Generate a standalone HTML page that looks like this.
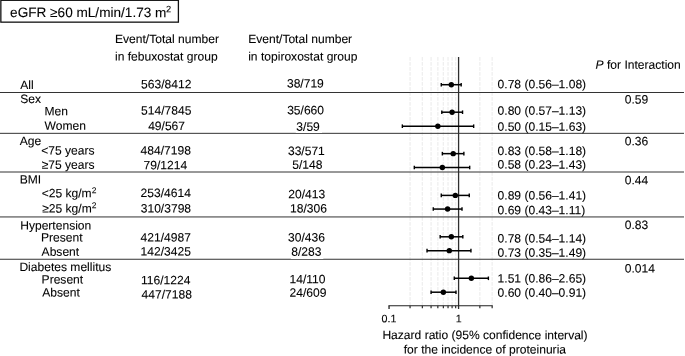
<!DOCTYPE html>
<html><head><meta charset="utf-8"><title>Forest plot</title>
<style>
html,body{margin:0;padding:0;background:#fff;}
svg{display:block;}
text{font-family:"Liberation Sans",Arial,Helvetica,sans-serif;font-size:12.07px;fill:#000;stroke:#000;stroke-width:0.09px;text-rendering:geometricPrecision;}
</style></head><body>
<svg width="685" height="356" viewBox="0 0 685 356">
<rect x="0" y="0" width="685" height="356" fill="#fff"/>
<line x1="410.06" y1="57" x2="410.06" y2="305" stroke="#efefef" stroke-width="1.3" stroke-dasharray="3.7 1.3"/>
<line x1="422.35" y1="57" x2="422.35" y2="305" stroke="#efefef" stroke-width="1.3" stroke-dasharray="3.7 1.3"/>
<line x1="431.07" y1="57" x2="431.07" y2="305" stroke="#efefef" stroke-width="1.3" stroke-dasharray="3.7 1.3"/>
<line x1="437.84" y1="57" x2="437.84" y2="305" stroke="#efefef" stroke-width="1.3" stroke-dasharray="3.7 1.3"/>
<line x1="443.36" y1="57" x2="443.36" y2="305" stroke="#efefef" stroke-width="1.3" stroke-dasharray="3.7 1.3"/>
<line x1="448.04" y1="57" x2="448.04" y2="305" stroke="#efefef" stroke-width="1.3" stroke-dasharray="3.7 1.3"/>
<line x1="452.09" y1="57" x2="452.09" y2="305" stroke="#efefef" stroke-width="1.3" stroke-dasharray="3.7 1.3"/>
<line x1="455.66" y1="57" x2="455.66" y2="305" stroke="#efefef" stroke-width="1.3" stroke-dasharray="3.7 1.3"/>
<line x1="479.86" y1="57" x2="479.86" y2="305" stroke="#efefef" stroke-width="1.3" stroke-dasharray="3.7 1.3"/>
<line x1="492.15" y1="57" x2="492.15" y2="305" stroke="#efefef" stroke-width="1.3" stroke-dasharray="3.7 1.3"/>
<line x1="0" y1="92.5" x2="684" y2="92.5" stroke="#333" stroke-width="1"/>
<line x1="0" y1="133.33" x2="684" y2="133.33" stroke="#333" stroke-width="1"/>
<line x1="0" y1="172.0" x2="684" y2="172.0" stroke="#333" stroke-width="1"/>
<line x1="0" y1="216.95" x2="684" y2="216.95" stroke="#333" stroke-width="1"/>
<line x1="0" y1="259.25" x2="684" y2="259.25" stroke="#333" stroke-width="1"/>
<rect x="295.8" y="120" width="26.2" height="13.0" fill="#fff"/>
<rect x="290.9" y="246" width="32.4" height="13.0" fill="#fff"/>
<line x1="458.58" y1="57" x2="458.58" y2="309.0" stroke="#2d2d2d" stroke-width="1.3"/>
<line x1="389.05" y1="305.75" x2="492.15" y2="305.75" stroke="#222" stroke-width="1.2" stroke-linecap="square"/>
<line x1="389.05" y1="305.75" x2="389.05" y2="309.0" stroke="#222" stroke-width="1.3"/>
<line x1="410.06" y1="305.75" x2="410.06" y2="308.3" stroke="#2a2a2a" stroke-width="1.2"/>
<line x1="422.35" y1="305.75" x2="422.35" y2="308.3" stroke="#2a2a2a" stroke-width="1.2"/>
<line x1="431.07" y1="305.75" x2="431.07" y2="308.3" stroke="#2a2a2a" stroke-width="1.2"/>
<line x1="437.84" y1="305.75" x2="437.84" y2="308.3" stroke="#2a2a2a" stroke-width="1.2"/>
<line x1="443.36" y1="305.75" x2="443.36" y2="308.3" stroke="#2a2a2a" stroke-width="1.2"/>
<line x1="448.04" y1="305.75" x2="448.04" y2="308.3" stroke="#2a2a2a" stroke-width="1.2"/>
<line x1="452.09" y1="305.75" x2="452.09" y2="308.3" stroke="#2a2a2a" stroke-width="1.2"/>
<line x1="455.66" y1="305.75" x2="455.66" y2="308.3" stroke="#2a2a2a" stroke-width="1.2"/>
<line x1="479.86" y1="305.75" x2="479.86" y2="308.3" stroke="#2a2a2a" stroke-width="1.2"/>
<line x1="492.15" y1="305.75" x2="492.15" y2="308.3" stroke="#2a2a2a" stroke-width="1.2"/>
<text x="389.05" y="322.2" transform="rotate(0.05 389.05 322.2)" text-anchor="middle" style="font-size:10.7px">0.1</text>
<text x="458.85" y="322.2" transform="rotate(0.05 458.85 322.2)" text-anchor="middle" style="font-size:10.7px">1</text>
<text x="485.0" y="339.1" transform="rotate(0.05 485.0 339.1)" text-anchor="middle">Hazard ratio (95% confidence interval)</text>
<text x="484.9" y="353.5" transform="rotate(0.05 484.9 353.5)" text-anchor="middle">for the incidence of proteinuria</text>
<rect x="0.85" y="0.3" width="177.55" height="21.85" fill="#fff" stroke="#111" stroke-width="1.3"/>
<text x="10.1" y="17.0" transform="rotate(0.05 10.1 17.0)" style="font-size:13.6px">eGFR ≥60 mL/min/1.73 m<tspan dy="-4.9" dx="-0.4" style="font-size:9.3px">2</tspan></text>
<text x="115" y="43" transform="rotate(0.05 115 43)">Event/Total number</text>
<text x="115" y="60.5" transform="rotate(0.05 115 60.5)">in febuxostat group</text>
<text x="248.2" y="43" transform="rotate(0.05 248.2 43)">Event/Total number</text>
<text x="248.2" y="60.5" transform="rotate(0.05 248.2 60.5)">in topiroxostat group</text>
<text x="595.6" y="68.8" transform="rotate(0.05 595.6 68.8)"><tspan font-style="italic">P</tspan> for Interaction</text>
<text x="20.2" y="103.0" transform="rotate(0.05 20.2 103.0)">Sex</text>
<text x="624.8" y="103.4" transform="rotate(0.05 624.8 103.4)">0.59</text>
<text x="19.7" y="144.9" transform="rotate(0.05 19.7 144.9)">Age</text>
<text x="624.8" y="145.2" transform="rotate(0.05 624.8 145.2)">0.36</text>
<text x="19.7" y="183.5" transform="rotate(0.05 19.7 183.5)">BMI</text>
<text x="624.8" y="184.3" transform="rotate(0.05 624.8 184.3)">0.44</text>
<text x="20.2" y="229.4" transform="rotate(0.05 20.2 229.4)">Hypertension</text>
<text x="624.8" y="228.9" transform="rotate(0.05 624.8 228.9)">0.83</text>
<text x="19.4" y="270.9" transform="rotate(0.05 19.4 270.9)">Diabetes mellitus</text>
<text x="624.8" y="272.5" transform="rotate(0.05 624.8 272.5)">0.014</text>
<text x="20.2" y="89.1" transform="rotate(0.05 20.2 89.1)">All</text>
<text x="166.2" y="88.3" transform="rotate(0.05 166.2 88.3)" text-anchor="middle">563/8412</text>
<text x="305.4" y="87.6" transform="rotate(0.05 305.4 87.6)" text-anchor="middle">38/719</text>
<text x="497.6" y="88.3" transform="rotate(0.05 497.6 88.3)">0.78 (0.56–1.08)</text>
<line x1="441.27" y1="84.7" x2="461.18" y2="84.7" stroke="#000" stroke-width="1.5"/>
<line x1="441.27" y1="82.9" x2="441.27" y2="86.5" stroke="#000" stroke-width="1.4"/>
<line x1="461.18" y1="82.9" x2="461.18" y2="86.5" stroke="#000" stroke-width="1.4"/>
<circle cx="451.32" cy="84.7" r="2.7" fill="#000"/>
<text x="44.5" y="115.2" transform="rotate(0.05 44.5 115.2)">Men</text>
<text x="166.2" y="114.6" transform="rotate(0.05 166.2 114.6)" text-anchor="middle">514/7845</text>
<text x="305.6" y="114.2" transform="rotate(0.05 305.6 114.2)" text-anchor="middle">35/660</text>
<text x="497.6" y="114.8" transform="rotate(0.05 497.6 114.8)">0.80 (0.57–1.13)</text>
<line x1="441.81" y1="112.2" x2="462.55" y2="112.2" stroke="#000" stroke-width="1.5"/>
<line x1="441.81" y1="110.4" x2="441.81" y2="114.0" stroke="#000" stroke-width="1.4"/>
<line x1="462.55" y1="110.4" x2="462.55" y2="114.0" stroke="#000" stroke-width="1.4"/>
<circle cx="452.09" cy="112.2" r="2.7" fill="#000"/>
<text x="44.5" y="129.8" transform="rotate(0.05 44.5 129.8)">Women</text>
<text x="166.6" y="130.1" transform="rotate(0.05 166.6 130.1)" text-anchor="middle">49/567</text>
<text x="308.1" y="130.8" transform="rotate(0.05 308.1 130.8)" text-anchor="middle">3/59</text>
<text x="497.6" y="130.7" transform="rotate(0.05 497.6 130.7)">0.50 (0.15–1.63)</text>
<line x1="402.34" y1="126.2" x2="473.66" y2="126.2" stroke="#000" stroke-width="1.5"/>
<line x1="402.34" y1="124.4" x2="402.34" y2="128.0" stroke="#000" stroke-width="1.4"/>
<line x1="473.66" y1="124.4" x2="473.66" y2="128.0" stroke="#000" stroke-width="1.4"/>
<circle cx="437.84" cy="126.2" r="2.7" fill="#000"/>
<text x="41.2" y="154.4" transform="rotate(0.05 41.2 154.4)">&lt;75 years</text>
<text x="165.7" y="154.6" transform="rotate(0.05 165.7 154.6)" text-anchor="middle">484/7198</text>
<text x="306.4" y="155.0" transform="rotate(0.05 306.4 155.0)" text-anchor="middle">33/571</text>
<text x="497.6" y="155.0" transform="rotate(0.05 497.6 155.0)">0.83 (0.58–1.18)</text>
<line x1="442.34" y1="153.65" x2="463.87" y2="153.65" stroke="#000" stroke-width="1.5"/>
<line x1="442.34" y1="151.85" x2="442.34" y2="155.45000000000002" stroke="#000" stroke-width="1.4"/>
<line x1="463.87" y1="151.85" x2="463.87" y2="155.45000000000002" stroke="#000" stroke-width="1.4"/>
<circle cx="453.20" cy="153.65" r="2.7" fill="#000"/>
<text x="41.7" y="168.8" transform="rotate(0.05 41.7 168.8)">≥75 years</text>
<text x="165.4" y="169.2" transform="rotate(0.05 165.4 169.2)" text-anchor="middle">79/1214</text>
<text x="307.3" y="168.8" transform="rotate(0.05 307.3 168.8)" text-anchor="middle">5/148</text>
<text x="497.6" y="168.6" transform="rotate(0.05 497.6 168.6)">0.58 (0.23–1.43)</text>
<line x1="414.30" y1="167.5" x2="469.69" y2="167.5" stroke="#000" stroke-width="1.5"/>
<line x1="414.30" y1="165.7" x2="414.30" y2="169.3" stroke="#000" stroke-width="1.4"/>
<line x1="469.69" y1="165.7" x2="469.69" y2="169.3" stroke="#000" stroke-width="1.4"/>
<circle cx="442.34" cy="167.5" r="2.7" fill="#000"/>
<text x="41.7" y="197.3" transform="rotate(0.05 41.7 197.3)">&lt;25 kg/m<tspan dy='-4.2' font-size='8.5'>2</tspan></text>
<text x="165.7" y="197.0" transform="rotate(0.05 165.7 197.0)" text-anchor="middle">253/4614</text>
<text x="306.7" y="198.2" transform="rotate(0.05 306.7 198.2)" text-anchor="middle">20/413</text>
<text x="497.6" y="199.5" transform="rotate(0.05 497.6 199.5)">0.89 (0.56–1.41)</text>
<line x1="441.27" y1="195.4" x2="469.27" y2="195.4" stroke="#000" stroke-width="1.5"/>
<line x1="441.27" y1="193.6" x2="441.27" y2="197.20000000000002" stroke="#000" stroke-width="1.4"/>
<line x1="469.27" y1="193.6" x2="469.27" y2="197.20000000000002" stroke="#000" stroke-width="1.4"/>
<circle cx="455.32" cy="195.4" r="2.7" fill="#000"/>
<text x="42.2" y="212.5" transform="rotate(0.05 42.2 212.5)">≥25 kg/m<tspan dy='-4.2' font-size='8.5'>2</tspan></text>
<text x="165.9" y="212.5" transform="rotate(0.05 165.9 212.5)" text-anchor="middle">310/3798</text>
<text x="308.5" y="212.6" transform="rotate(0.05 308.5 212.6)" text-anchor="middle">18/306</text>
<text x="497.6" y="214.3" transform="rotate(0.05 497.6 214.3)">0.69 (0.43–1.11)</text>
<line x1="433.27" y1="209.07" x2="462.01" y2="209.07" stroke="#000" stroke-width="1.5"/>
<line x1="433.27" y1="207.26999999999998" x2="433.27" y2="210.87" stroke="#000" stroke-width="1.4"/>
<line x1="462.01" y1="207.26999999999998" x2="462.01" y2="210.87" stroke="#000" stroke-width="1.4"/>
<circle cx="447.60" cy="209.07" r="2.7" fill="#000"/>
<text x="41.0" y="241.5" transform="rotate(0.05 41.0 241.5)">Present</text>
<text x="165.7" y="241.6" transform="rotate(0.05 165.7 241.6)" text-anchor="middle">421/4987</text>
<text x="306.5" y="241.6" transform="rotate(0.05 306.5 241.6)" text-anchor="middle">30/436</text>
<text x="497.6" y="242.5" transform="rotate(0.05 497.6 242.5)">0.78 (0.54–1.14)</text>
<line x1="440.17" y1="236.8" x2="462.82" y2="236.8" stroke="#000" stroke-width="1.5"/>
<line x1="440.17" y1="235.0" x2="440.17" y2="238.60000000000002" stroke="#000" stroke-width="1.4"/>
<line x1="462.82" y1="235.0" x2="462.82" y2="238.60000000000002" stroke="#000" stroke-width="1.4"/>
<circle cx="451.32" cy="236.8" r="2.7" fill="#000"/>
<text x="41.6" y="255.8" transform="rotate(0.05 41.6 255.8)">Absent</text>
<text x="165.7" y="255.6" transform="rotate(0.05 165.7 255.6)" text-anchor="middle">142/3425</text>
<text x="306.4" y="255.7" transform="rotate(0.05 306.4 255.7)" text-anchor="middle">8/283</text>
<text x="497.6" y="256.7" transform="rotate(0.05 497.6 256.7)">0.73 (0.35–1.49)</text>
<line x1="427.03" y1="250.65" x2="470.94" y2="250.65" stroke="#000" stroke-width="1.5"/>
<line x1="427.03" y1="248.85" x2="427.03" y2="252.45000000000002" stroke="#000" stroke-width="1.4"/>
<line x1="470.94" y1="248.85" x2="470.94" y2="252.45000000000002" stroke="#000" stroke-width="1.4"/>
<circle cx="449.31" cy="250.65" r="2.7" fill="#000"/>
<text x="41.6" y="283.5" transform="rotate(0.05 41.6 283.5)">Present</text>
<text x="165.7" y="284.2" transform="rotate(0.05 165.7 284.2)" text-anchor="middle">116/1224</text>
<text x="307.5" y="283.2" transform="rotate(0.05 307.5 283.2)" text-anchor="middle">14/110</text>
<text x="497.6" y="282.5" transform="rotate(0.05 497.6 282.5)">1.51 (0.86–2.65)</text>
<line x1="454.28" y1="278.3" x2="488.39" y2="278.3" stroke="#000" stroke-width="1.5"/>
<line x1="454.28" y1="276.5" x2="454.28" y2="280.1" stroke="#000" stroke-width="1.4"/>
<line x1="488.39" y1="276.5" x2="488.39" y2="280.1" stroke="#000" stroke-width="1.4"/>
<circle cx="471.34" cy="278.3" r="2.7" fill="#000"/>
<text x="42.2" y="296.6" transform="rotate(0.05 42.2 296.6)">Absent</text>
<text x="166.7" y="298.6" transform="rotate(0.05 166.7 298.6)" text-anchor="middle">447/7188</text>
<text x="308.0" y="296.8" transform="rotate(0.05 308.0 296.8)" text-anchor="middle">24/609</text>
<text x="497.6" y="296.8" transform="rotate(0.05 497.6 296.8)">0.60 (0.40–0.91)</text>
<line x1="431.07" y1="292.2" x2="455.99" y2="292.2" stroke="#000" stroke-width="1.5"/>
<line x1="431.07" y1="290.4" x2="431.07" y2="294.0" stroke="#000" stroke-width="1.4"/>
<line x1="455.99" y1="290.4" x2="455.99" y2="294.0" stroke="#000" stroke-width="1.4"/>
<circle cx="443.36" cy="292.2" r="2.7" fill="#000"/>
</svg></body></html>
